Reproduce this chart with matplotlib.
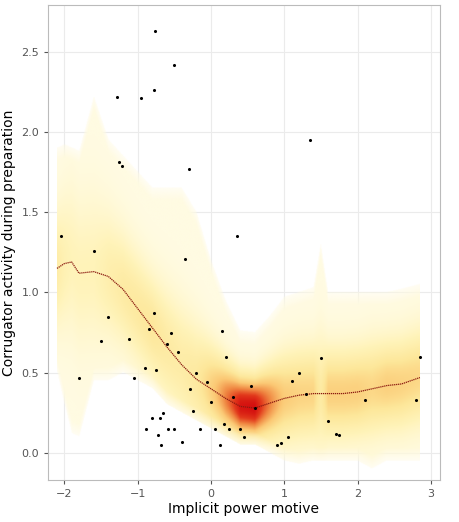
import numpy as np
import matplotlib
matplotlib.use("Agg")
import matplotlib.pyplot as plt
from matplotlib.colors import LinearSegmentedColormap

# raw observations
pts_x = [-2.05, -1.8, -1.6, -1.5, -1.4, -1.28, -1.25, -1.22, -1.12, -1.05, -0.95, -0.9, -0.88,
         -0.85, -0.8, -0.78, -0.78, -0.76, -0.75, -0.72, -0.7, -0.68, -0.65, -0.6, -0.58, -0.55,
         -0.5, -0.5, -0.45, -0.4, -0.35, -0.3, -0.28, -0.25, -0.2, -0.15, -0.05, 0.0, 0.05, 0.12,
         0.15, 0.18, 0.2, 0.25, 0.3, 0.35, 0.4, 0.45, 0.55, 0.6, 0.9, 0.95, 1.05, 1.1, 1.2, 1.3,
         1.35, 1.5, 1.6, 1.7, 1.75, 2.1, 2.8, 2.85]
pts_y = [1.35, 0.47, 1.26, 0.7, 0.85, 2.22, 1.81, 1.79, 0.71, 0.47, 2.21, 0.53, 0.15,
         0.77, 0.22, 0.87, 2.26, 2.63, 0.52, 0.11, 0.22, 0.05, 0.25, 0.68, 0.15, 0.75,
         2.42, 0.15, 0.63, 0.07, 1.21, 1.77, 0.4, 0.26, 0.5, 0.15, 0.44, 0.32, 0.15, 0.05,
         0.76, 0.18, 0.6, 0.15, 0.35, 1.35, 0.15, 0.1, 0.42, 0.28, 0.05, 0.06, 0.1, 0.45, 0.5, 0.37,
         1.95, 0.59, 0.2, 0.12, 0.11, 0.33, 0.33, 0.6]

# smoothed fit and envelope
fit_x = [-2.1, -2.0, -1.9, -1.8, -1.6, -1.4, -1.2, -1.0, -0.8, -0.6, -0.4, -0.2, 0.0, 0.2, 0.4,
         0.6, 0.8, 1.0, 1.2, 1.4, 1.5, 1.6, 1.8, 2.0, 2.2, 2.4, 2.6, 2.85]
fit_y = [1.15, 1.18, 1.19, 1.12, 1.13, 1.10, 1.02, 0.90, 0.78, 0.66, 0.55, 0.46, 0.40, 0.34, 0.29,
         0.28, 0.31, 0.34, 0.36, 0.37, 0.37, 0.37, 0.37, 0.38, 0.40, 0.42, 0.43, 0.47]
upper = [1.90, 1.92, 1.90, 1.88, 2.22, 1.95, 1.85, 1.75, 1.65, 1.65, 1.65, 1.50, 1.20, 0.95, 0.76,
         0.75, 0.85, 0.97, 1.00, 1.03, 1.30, 1.00, 1.00, 1.00, 1.00, 1.00, 1.02, 1.05]
lower = [0.50, 0.30, 0.12, 0.10, 0.45, 0.45, 0.50, 0.45, 0.40, 0.30, 0.25, 0.20, 0.15, 0.10, 0.05,
         0.05, 0.00, -0.05, -0.07, -0.05, -0.05, -0.05, -0.05, -0.05, -0.10, -0.05, -0.05, -0.05]

cmap = LinearSegmentedColormap.from_list(
    "vwr", ["#fffbe2", "#fff3b8", "#fde79a", "#fbc874", "#f08a44", "#e23a1c", "#d40f0f"])

fig, ax = plt.subplots(figsize=(4.59, 5.22), dpi=100)
fig.subplots_adjust(left=0.105, right=0.958, top=0.99, bottom=0.08)

gx = np.linspace(fit_x[0], fit_x[-1], 500)
gy = np.linspace(-0.2, 2.3, 700)
c = np.interp(gx, fit_x, fit_y)
up = np.interp(gx, fit_x, upper)
lo = np.interp(gx, fit_x, lower)
sd = (up - lo) / 5.0
X, Y = np.meshgrid(gx, gy)
dens = np.exp(-0.5 * ((Y - c) / sd) ** 2) / sd ** 1.5
dens = dens / dens.max()
rgba = cmap(np.clip(dens, 0, 1) ** 1.3)
inside = (Y >= lo) & (Y <= up)
edge = np.minimum(np.clip((Y - lo) / 0.08, 0, 1), np.clip((up - Y) / 0.08, 0, 1))
rgba[..., 3] = np.where(inside, 0.4 + 0.6 * edge, 0.0)
ax.imshow(rgba, origin="lower", aspect="auto", interpolation="bilinear",
          extent=[gx[0], gx[-1], gy[0], gy[-1]], zorder=1)

ax.plot(fit_x, fit_y, color="#8b1a10", lw=0.9, ls=(0, (1, 0.6)), zorder=2)
ax.scatter(pts_x, pts_y, s=1.5, color="black", zorder=3)

ax.set_xlim(-2.22, 3.12)
ax.set_ylim(-0.17, 2.79)
ax.set_xticks([-2, -1, 0, 1, 2, 3])
ax.set_yticks([0.0, 0.5, 1.0, 1.5, 2.0, 2.5])
ax.set_yticklabels(["0.0", "0.5", "1.0", "1.5", "2.0", "2.5"])
ax.grid(True, color="#ebebeb", lw=0.8, zorder=0)
ax.set_axisbelow(True)
for s in ax.spines.values():
    s.set_color("#bbbbbb")
ax.tick_params(colors="#555555", labelsize=8, length=3)
ax.set_xlabel("Implicit power motive", fontsize=10, labelpad=2)
ax.set_ylabel("Corrugator activity during preparation", fontsize=10)

fig.savefig("out.png", dpi=100)
